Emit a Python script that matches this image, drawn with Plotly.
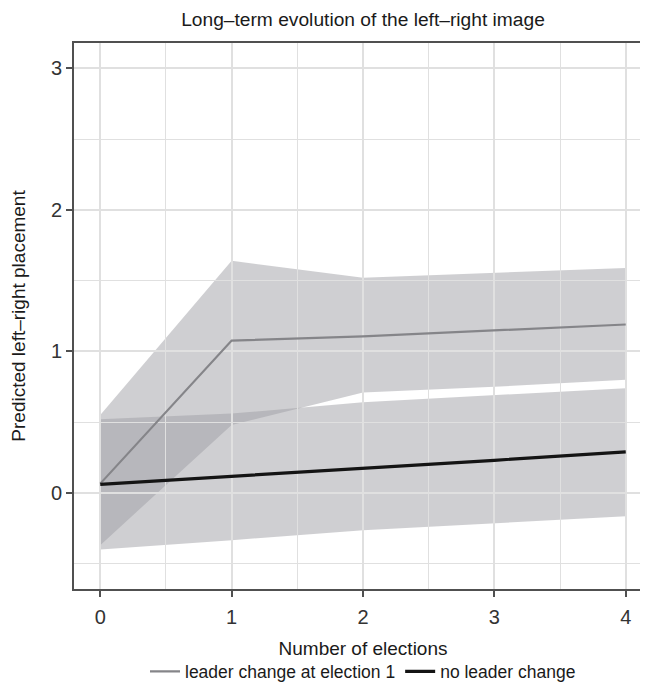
import plotly.graph_objects as go

# data
elections = [0, 1, 2, 3, 4]

change_fit = [0.065, 1.076, 1.106, 1.148, 1.19]
change_lo = [-0.37, 0.48, 0.71, 0.75, 0.80]
change_hi = [0.55, 1.64, 1.52, 1.555, 1.59]

nochange_fit = [0.06, 0.115, 0.175, 0.23, 0.29]
nochange_lo = [-0.40, -0.335, -0.265, -0.215, -0.165]
nochange_hi = [0.52, 0.56, 0.64, 0.69, 0.74]

series_names = ['leader change at election 1', 'no leader change']
line_colors = ['#858589', '#141414']
line_widths = [2.2, 3.2]

x_range = [-0.2, 4.2]
y_range = [-0.68, 3.18]

font = 'Liberation Sans, Arial, sans-serif'
ribbon_fill = 'rgba(160,160,166,0.5)'
grid_col = '#e0e0e0'

fig = go.Figure()

# ribbons go on the first subplot so the grid of the second one sits on top of them
for lo, hi in [(change_lo, change_hi), (nochange_lo, nochange_hi)]:
    fig.add_trace(go.Scatter(
        x=elections + elections[::-1],
        y=hi + lo[::-1],
        fill='toself',
        fillcolor=ribbon_fill,
        line=dict(width=0),
        mode='lines',
        hoverinfo='skip',
        showlegend=False,
        xaxis='x', yaxis='y',
    ))

for name, fit, col, w in zip(series_names, [change_fit, nochange_fit], line_colors, line_widths):
    fig.add_trace(go.Scatter(
        x=elections,
        y=fit,
        mode='lines',
        name=name,
        line=dict(color=col, width=w),
        xaxis='x2', yaxis='y2',
    ))

axis_common = dict(zeroline=False, tick0=0, dtick=1)

fig.update_layout(
    width=648,
    height=684,
    margin=dict(l=66, r=2, t=35, b=94),
    paper_bgcolor='white',
    plot_bgcolor='rgba(0,0,0,0)',
    font=dict(family=font, color='#1a1a1a'),
    title=dict(
        text='Long\u2013term evolution of the left\u2013right image',
        x=0.5, xref='paper', xanchor='center',
        y=1 - 11 / 684, yref='container', yanchor='middle',
        font=dict(size=19.2, color='#1a1a1a'),
    ),
    xaxis=dict(
        **axis_common,
        range=x_range, domain=[0, 1], anchor='y',
        showgrid=False,
        showline=True, mirror=True, linecolor='#505050', linewidth=2,
        ticks='outside', ticklen=6, tickwidth=1.5, tickcolor='#505050',
        ticklabelstandoff=3,
        tickfont=dict(size=20, color='#333333'),
        title=dict(text='Number of elections', font=dict(size=19), standoff=15),
    ),
    yaxis=dict(
        **axis_common,
        range=y_range, domain=[0, 1], anchor='x',
        showgrid=False,
        showline=True, mirror=True, linecolor='#505050', linewidth=2,
        ticks='outside', ticklen=6, tickwidth=1.5, tickcolor='#505050',
        tickfont=dict(size=20, color='#333333'),
        title=dict(text='Predicted left\u2013right placement', font=dict(size=19), standoff=23),
    ),
    xaxis2=dict(
        **axis_common,
        range=x_range, domain=[0, 1], anchor='y2',
        showgrid=True, gridcolor=grid_col, gridwidth=1.8,
        minor=dict(dtick=0.5, showgrid=True, gridcolor=grid_col, gridwidth=1.1),
        showticklabels=False, showline=False,
    ),
    yaxis2=dict(
        **axis_common,
        range=y_range, domain=[0, 1], anchor='x2',
        showgrid=True, gridcolor=grid_col, gridwidth=1.8,
        minor=dict(dtick=0.5, showgrid=True, gridcolor=grid_col, gridwidth=1.1),
        showticklabels=False, showline=False,
    ),
    legend=dict(
        orientation='h',
        x=0.5, xanchor='center',
        y=-0.151, yanchor='middle',
        font=dict(size=17.5, color='#1a1a1a'),
        bgcolor='rgba(0,0,0,0)',
    ),
)

fig.write_html('out.html')
